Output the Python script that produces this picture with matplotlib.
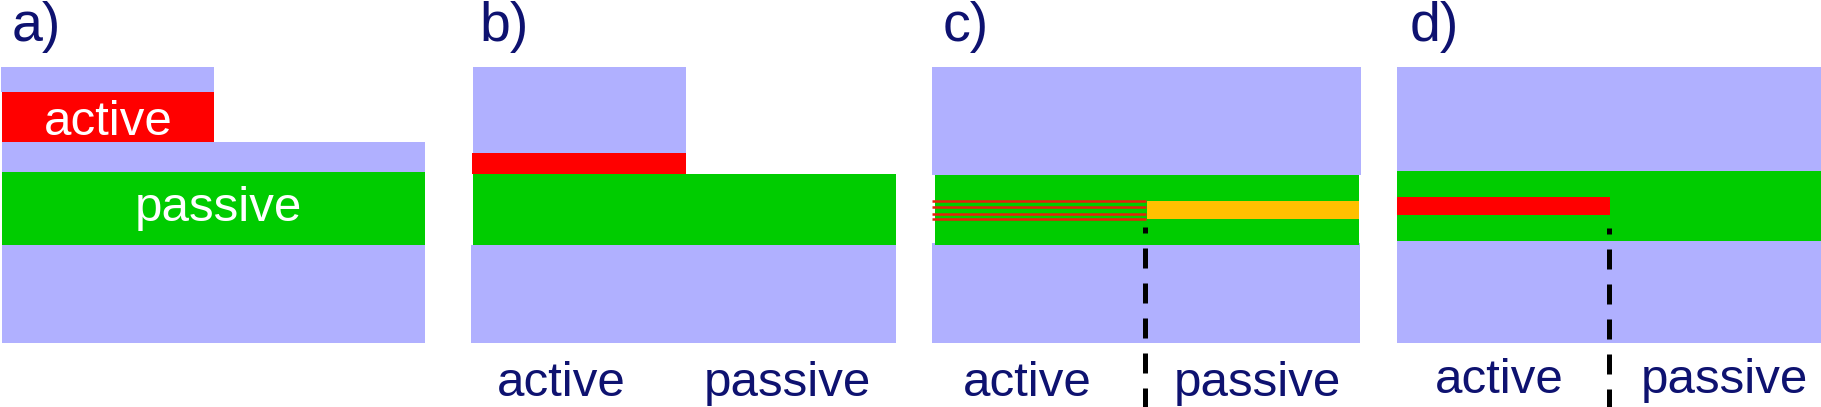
import matplotlib
matplotlib.use("Agg")
import matplotlib.pyplot as plt

plt.rcParams["font.family"] = ["Liberation Sans", "DejaVu Sans"]

# cores das camadas
CLAD = "#B0B0FF"
GREEN = "#00CC00"
RED = "#FF0000"
ORANGE = "#FFC000"
NAVY = "#0E1270"

# camadas: (x0, x1, y_topo, y_base, cor), em pixels da imagem
layers_a = [
    (1, 214, 67, 92, CLAD),
    (2, 214, 92, 142, RED),
    (2, 425, 142, 172, CLAD),
    (2, 425, 172, 245, GREEN),
    (2, 425, 245, 343, CLAD),
]
layers_b = [
    (473, 686, 67, 153, CLAD),
    (472, 686, 153, 174, RED),
    (473, 896, 174, 245, GREEN),
    (471, 896, 245, 343, CLAD),
]
layers_c = [
    (932, 1361, 67, 175, CLAD),
    (932, 1360, 243, 343, CLAD),
    (935, 1359, 175, 245, GREEN),
    (1147, 1359, 201, 219, ORANGE),
]
layers_d = [
    (1397, 1821, 67, 171, CLAD),
    (1397, 1821, 241, 343, CLAD),
    (1397, 1821, 171, 241, GREEN),
    (1397, 1610, 197, 215, RED),
]

# linhas vermelhas finas do painel c
qw_x = (932, 1146)
qw_y = [201, 207, 214, 219]

# tracejados: (x, y_inicio, y_fim)
dash_c = (1145, 227, 407)
dash_d = (1609, 228, 407)

# textos: (x, y_baseline, texto)
labels_panel = [
    (12, 41, "a)"),
    (479, 41, "b)"),
    (943, 41, "c)"),
    (1410, 41, "d)"),
]
labels_inside = [
    (108, 135, "active"),
    (218, 221, "passive"),
]
labels_below = [
    (561, 396, "active"),
    (787, 396, "passive"),
    (1027, 396, "active"),
    (1257, 396, "passive"),
    (1499, 393, "active"),
    (1724, 393, "passive"),
]

fig = plt.figure(figsize=(18.21, 4.07), dpi=100)
ax = fig.add_axes([0, 0, 1, 1])
ax.set_xlim(0, 1821)
ax.set_ylim(407, 0)
ax.axis("off")

for panel in [layers_a, layers_b, layers_c, layers_d]:
    for x0, x1, y0, y1, color in panel:
        ax.bar(x0, y1 - y0, width=x1 - x0, bottom=y0, align="edge",
               color=color, linewidth=0)

for y in qw_y:
    ax.plot(qw_x, [y, y], color="#E8200A", linewidth=1.8, solid_capstyle="butt")

# padrao 20 px ligado, 15 px desligado (unidades de largura da linha)
for x, y0, y1 in [dash_c, dash_d]:
    ax.plot([x, x], [y0, y1], color="black", linewidth=3.6,
            linestyle=(2.8, (4, 3)), dash_capstyle="butt")

for x, y, s in labels_panel:
    ax.text(x, y, s, fontsize=40, color=NAVY, ha="left", va="baseline")
for x, y, s in labels_inside:
    ax.text(x, y, s, fontsize=35.5, color="white", ha="center", va="baseline")
for x, y, s in labels_below:
    ax.text(x, y, s, fontsize=35.5, color=NAVY, ha="center", va="baseline")

fig.savefig("out.png", dpi=100)
plt.close(fig)
